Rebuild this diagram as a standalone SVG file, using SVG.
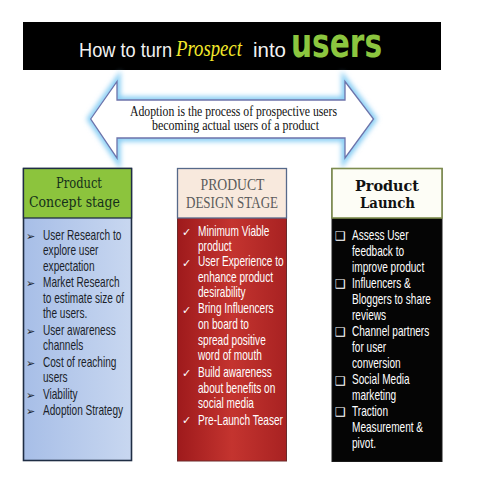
<svg xmlns="http://www.w3.org/2000/svg" width="480" height="480" viewBox="0 0 480 480">
<defs>
  <style>
    .li{font-family:"Liberation Sans",Arial,sans-serif;font-size:14px}
    .dk{fill:#1b1f2a}
    .wt{fill:#ffffff}
    .bul{font-family:"DejaVu Sans",sans-serif}
    .ser{font-family:"Liberation Serif","Times New Roman",serif}
  </style>
  <linearGradient id="gBlue" x1="0" y1="0" x2="1" y2="0">
    <stop offset="0" stop-color="#a7bee7"/>
    <stop offset="1" stop-color="#c8d7f0"/>
  </linearGradient>
  <linearGradient id="gRed" x1="0" y1="0" x2="1" y2="0">
    <stop offset="0" stop-color="#9e1a1c"/>
    <stop offset="0.5" stop-color="#c4342f"/>
    <stop offset="1" stop-color="#a82222"/>
  </linearGradient>
  <filter id="glow" x="-10%" y="-20%" width="120%" height="140%">
    <feGaussianBlur stdDeviation="2.5"/>
  </filter>
</defs>
<rect width="480" height="480" fill="#ffffff"/>

<g id="title">
  <rect x="23" y="22" width="418" height="48" fill="#000"/>
  <text x="79" y="57" font-family="Liberation Sans,Arial,sans-serif" font-size="20" fill="#f2f2f2" textLength="93" lengthAdjust="spacingAndGlyphs">How to turn</text>
  <text transform="translate(176,56) scale(0.78,1)" x="0" y="0" font-family="Liberation Serif,serif" font-style="italic" font-size="24" fill="#f3e82a">Prospect</text>
  <text x="253" y="57" font-family="Liberation Sans,Arial,sans-serif" font-size="20" fill="#f2f2f2" textLength="33" lengthAdjust="spacingAndGlyphs">into</text>
  <text x="291" y="57" font-family="DejaVu Sans,sans-serif" font-weight="bold" font-size="40" fill="#8cc63f" textLength="91" lengthAdjust="spacingAndGlyphs">users</text>
</g>

<g id="adoption">
  <path d="M90.7,119 L117,81.5 L117,100 L345,100 L345,81.5 L373.5,119 L345,158 L345,138 L117,138 L117,158 Z" fill="none" stroke="#86cdf4" stroke-width="7" filter="url(#glow)"/>
  <path d="M90.7,119 L117,81.5 L117,100 L345,100 L345,81.5 L373.5,119 L345,158 L345,138 L117,138 L117,158 Z" fill="#ffffff" stroke="#6d73aa" stroke-width="1.3" stroke-linejoin="miter"/>
  <text class="ser" x="130" y="115.5" font-size="14.5" fill="#111" textLength="207" lengthAdjust="spacingAndGlyphs">Adoption is the process of prospective users</text>
  <text class="ser" x="152" y="130" font-size="14.5" fill="#111" textLength="167" lengthAdjust="spacingAndGlyphs">becoming actual users of a product</text>
</g>

<g id="concept">
  <rect x="23.5" y="168.5" width="108" height="292" fill="url(#gBlue)" stroke="#1f2d44" stroke-width="1.6"/>
  <rect x="23.5" y="168.5" width="108" height="49.5" fill="#8cc43d" stroke="#1f2d44" stroke-width="1.3"/>
  <text x="56" y="188" font-family="DejaVu Serif,serif" font-size="14" fill="#14301a" textLength="46" lengthAdjust="spacingAndGlyphs">Product</text>
  <text x="29" y="207" font-family="DejaVu Serif,serif" font-size="14" fill="#14301a" textLength="91" lengthAdjust="spacingAndGlyphs">Concept stage</text>
  <g class="bul dk" font-size="11">
    <text x="26" y="239.5">➢</text>
    <text x="26" y="287">➢</text>
    <text x="26" y="334.5">➢</text>
    <text x="26" y="366.5">➢</text>
    <text x="26" y="398.5">➢</text>
    <text x="26" y="415">➢</text>
  </g>
  <g class="li dk" transform="translate(43,0) scale(0.72,1)">
    <text x="0" y="240">User Research to</text>
    <text x="0" y="255.5">explore user</text>
    <text x="0" y="271">expectation</text>
    <text x="0" y="287.5">Market Research</text>
    <text x="0" y="303">to estimate size of</text>
    <text x="0" y="318.5">the users.</text>
    <text x="0" y="335">User awareness</text>
    <text x="0" y="350.5">channels</text>
    <text x="0" y="367">Cost of reaching</text>
    <text x="0" y="382.5">users</text>
    <text x="0" y="399">Viability</text>
    <text x="0" y="415.5">Adoption Strategy</text>
  </g>
</g>

<g id="design">
  <rect x="177.5" y="168.5" width="109" height="292.5" fill="url(#gRed)" stroke="#6a2a2a" stroke-width="1"/>
  <rect x="177.5" y="168.5" width="109" height="49.5" fill="#f8e9dd" stroke="#56698a" stroke-width="1.3"/>
  <text class="ser" x="200.5" y="190" font-size="16" fill="#5b5b5b" textLength="64" lengthAdjust="spacingAndGlyphs">PRODUCT</text>
  <text class="ser" x="186" y="208" font-size="16" fill="#5b5b5b" textLength="92" lengthAdjust="spacingAndGlyphs">DESIGN STAGE</text>
  <g class="bul wt" font-size="11">
    <text x="182" y="235.5">✓</text>
    <text x="182" y="266.5">✓</text>
    <text x="182" y="313.5">✓</text>
    <text x="182" y="376.5">✓</text>
    <text x="182" y="424">✓</text>
  </g>
  <g class="li wt" transform="translate(198,0) scale(0.72,1)">
    <text x="0" y="236">Minimum Viable</text>
    <text x="0" y="251">product</text>
    <text x="0" y="266.5">User Experience to</text>
    <text x="0" y="282">enhance product</text>
    <text x="0" y="297.5">desirability</text>
    <text x="0" y="313.5">Bring Influencers</text>
    <text x="0" y="329">on board to</text>
    <text x="0" y="345">spread positive</text>
    <text x="0" y="360.5">word of mouth</text>
    <text x="0" y="377.5">Build awareness</text>
    <text x="0" y="393">about benefits on</text>
    <text x="0" y="408.5">social media</text>
    <text x="0" y="425">Pre-Launch Teaser</text>
  </g>
</g>

<g id="launch">
  <rect x="332" y="168.5" width="110" height="293" fill="#050505" stroke="#1a1a1a" stroke-width="1"/>
  <rect x="332" y="168.5" width="110" height="49.5" fill="#fdfdf6" stroke="#7d8c4e" stroke-width="1.6"/>
  <text x="355" y="191" font-family="DejaVu Serif,serif" font-weight="bold" font-size="15" fill="#111" textLength="64" lengthAdjust="spacingAndGlyphs">Product</text>
  <text x="360" y="208" font-family="DejaVu Serif,serif" font-weight="bold" font-size="15" fill="#111" textLength="55" lengthAdjust="spacingAndGlyphs">Launch</text>
  <g class="bul wt" font-size="12">
    <text x="335" y="240">❑</text>
    <text x="335" y="288">❑</text>
    <text x="335" y="336">❑</text>
    <text x="335" y="384.5">❑</text>
    <text x="335" y="416">❑</text>
  </g>
  <g class="li wt" transform="translate(352,0) scale(0.72,1)">
    <text x="0" y="240">Assess User</text>
    <text x="0" y="256">feedback to</text>
    <text x="0" y="272">improve product</text>
    <text x="0" y="288">Influencers &amp;</text>
    <text x="0" y="304">Bloggers to share</text>
    <text x="0" y="320">reviews</text>
    <text x="0" y="336">Channel partners</text>
    <text x="0" y="352">for user</text>
    <text x="0" y="368.5">conversion</text>
    <text x="0" y="384.5">Social Media</text>
    <text x="0" y="400">marketing</text>
    <text x="0" y="416">Traction</text>
    <text x="0" y="432">Measurement &amp;</text>
    <text x="0" y="448">pivot.</text>
  </g>
</g>
</svg>
